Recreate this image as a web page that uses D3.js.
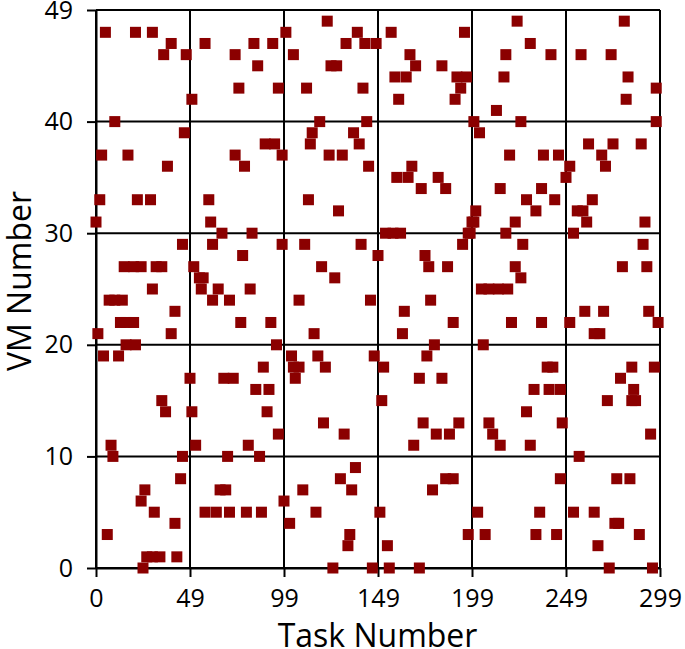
<!DOCTYPE html>
<html><head><meta charset="utf-8">
<script src="https://cdn.jsdelivr.net/npm/d3@7"></script>
<style>html,body{margin:0;padding:0;background:#fff;}svg{display:block;}</style>
</head><body>
<svg id="chart" width="685" height="649"></svg>
<script>
// Task index of each plotted square
const tasks = [5,21,30,40,36,48,51,58,74,84,94,86,76,97,10,47,3,17,38,74,79,90,95,99,
2,22,29,60,0,61,67,83,46,62,99,78,
15,20,24,32,35,52,55,57,56,65,82,30,
7,10,14,62,71,42,13,16,20,77,93,1,40,16,21,96,4,12,89,50,68,73,
85,92,35,37,51,91,97,8,9,53,81,46,70,87,45,26,24,31,42,66,69,100,58,64,71,80,88,103,6,27,30,34,43,25,
123,101,139,157,196,133,143,149,105,167,125,128,170,184,159,165,192,197,112,142,194,161,191,119,144,201,115,137,204,114,140,124,131,145,168,160,166,182,173,186,113,
129,195,198,199,200,201,202,154,158,162,111,141,150,175,177,187,120,127,108,146,178,164,190,116,163,180,104,118,148,176,105,108,106,122,153,172,184,
152,121,132,174,193,181,188,169,138,130,136,110,117,151,186,190,179,203,198,135,134,155,126,147,156,172,
224,281,231,218,242,258,274,217,283,298,282,213,226,298,
262,275,290,220,238,246,269,271,250,252,215,237,229,244,264,
234,256,259,223,261,292,218,254,227,291,280,293,223,226,205,209,214,219,260,270,294,221,237,252,299,
265,268,206,240,243,285,297,279,
233,241,247,286,285,287,272,229,209,211,215,248,231,295,257,247,277,284,236,254,265,276,278,207,234,245,289,267,273,296];
// VM assigned to each of those tasks
const vms = [48,48,48,47,46,46,42,47,46,47,47,45,43,43,40,39,37,37,36,37,36,38,38,37,
33,33,33,33,31,31,30,30,29,29,29,28,
27,27,27,27,27,27,26,26,25,25,25,25,
24,24,24,24,24,23,22,22,22,22,22,21,21,20,20,20,19,19,18,17,17,17,
16,16,15,14,14,14,12,11,10,11,11,10,10,10,8,7,6,5,4,7,7,6,5,5,5,5,5,4,3,1,1,1,1,0,
49,48,48,48,48,47,47,47,46,46,45,45,45,45,44,44,44,44,43,43,43,42,42,40,40,40,39,39,39,38,38,37,37,36,36,35,35,35,34,34,33,
32,29,30,30,31,31,32,30,30,30,29,29,28,28,27,27,27,26,24,24,24,23,22,21,21,20,19,19,19,19,18,18,17,18,18,17,17,
15,13,12,13,13,12,12,11,9,8,7,7,5,5,8,8,7,5,3,3,2,2,0,0,0,0,
49,49,47,46,46,46,46,44,44,43,42,41,40,40,
38,38,38,37,37,37,37,36,35,36,34,34,33,33,33,
32,32,32,31,31,31,30,30,29,29,27,27,27,26,25,25,25,25,23,23,23,22,22,22,22,
21,21,20,18,18,18,18,17,
16,16,16,16,15,15,15,14,13,12,11,13,11,12,10,8,8,8,5,5,5,4,4,3,3,3,3,2,0,0];
const xTickValues = [0,50,100,150,200,250,300];
const xTickLabels = ["0","49","99","149","199","249","299"];
const yTickValues = [0,10,20,30,40,50];
const yTickLabels = ["0","10","20","30","40","49"];

const points = tasks.map((t,i)=>({task:t, vm:vms[i]}));
const svg = d3.select("#chart");
const x = d3.scaleLinear().domain([0,300]).range([96,660]);
const y = d3.scaleLinear().domain([0,50]).range([568,10]);
const font = "'Open Sans', 'Noto Sans', sans-serif";

// grid
svg.append("g").selectAll("line").data(xTickValues).join("line")
  .attr("x1",d=>x(d)).attr("x2",d=>x(d)).attr("y1",y(0)).attr("y2",y(50))
  .attr("stroke","#000").attr("stroke-width",2);
svg.append("g").selectAll("line").data(yTickValues).join("line")
  .attr("y1",d=>y(d)).attr("y2",d=>y(d)).attr("x1",x(0)).attr("x2",x(300))
  .attr("stroke","#000").attr("stroke-width",2);

// axes
const xAxis = svg.append("g").attr("transform",`translate(0,${y(0)})`)
  .call(d3.axisBottom(x).tickValues(xTickValues).tickFormat((d,i)=>xTickLabels[i]).tickSize(9).tickPadding(12).tickSizeOuter(0));
const yAxis = svg.append("g").attr("transform",`translate(${x(0)},0)`)
  .call(d3.axisLeft(y).tickValues(yTickValues).tickFormat((d,i)=>yTickLabels[i]).tickSize(9).tickPadding(14).tickSizeOuter(0));
[xAxis,yAxis].forEach(a=>{
  a.selectAll("path.domain").attr("stroke","#000").attr("stroke-width",2);
  a.selectAll(".tick line").attr("stroke","#000").attr("stroke-width",2);
  a.selectAll("text").attr("fill","#000").style("font-family",font).style("font-size","25px");
});

// squares
const s = 11;
svg.append("g").selectAll("rect").data(points).join("rect")
  .attr("x",d=>x(d.task)-s/2).attr("y",d=>y(d.vm)-s/2)
  .attr("width",s).attr("height",s).attr("fill","#8b0000");

// titles
svg.append("text").attr("x",377.5).attr("y",647).attr("text-anchor","middle")
  .style("font-family",font).style("font-size","32px").attr("fill","#000").text("Task Number");
svg.append("text").attr("transform","translate(31,281) rotate(-90)").attr("text-anchor","middle")
  .style("font-family",font).style("font-size","32px").attr("fill","#000").text("VM Number");
</script>
</body></html>
